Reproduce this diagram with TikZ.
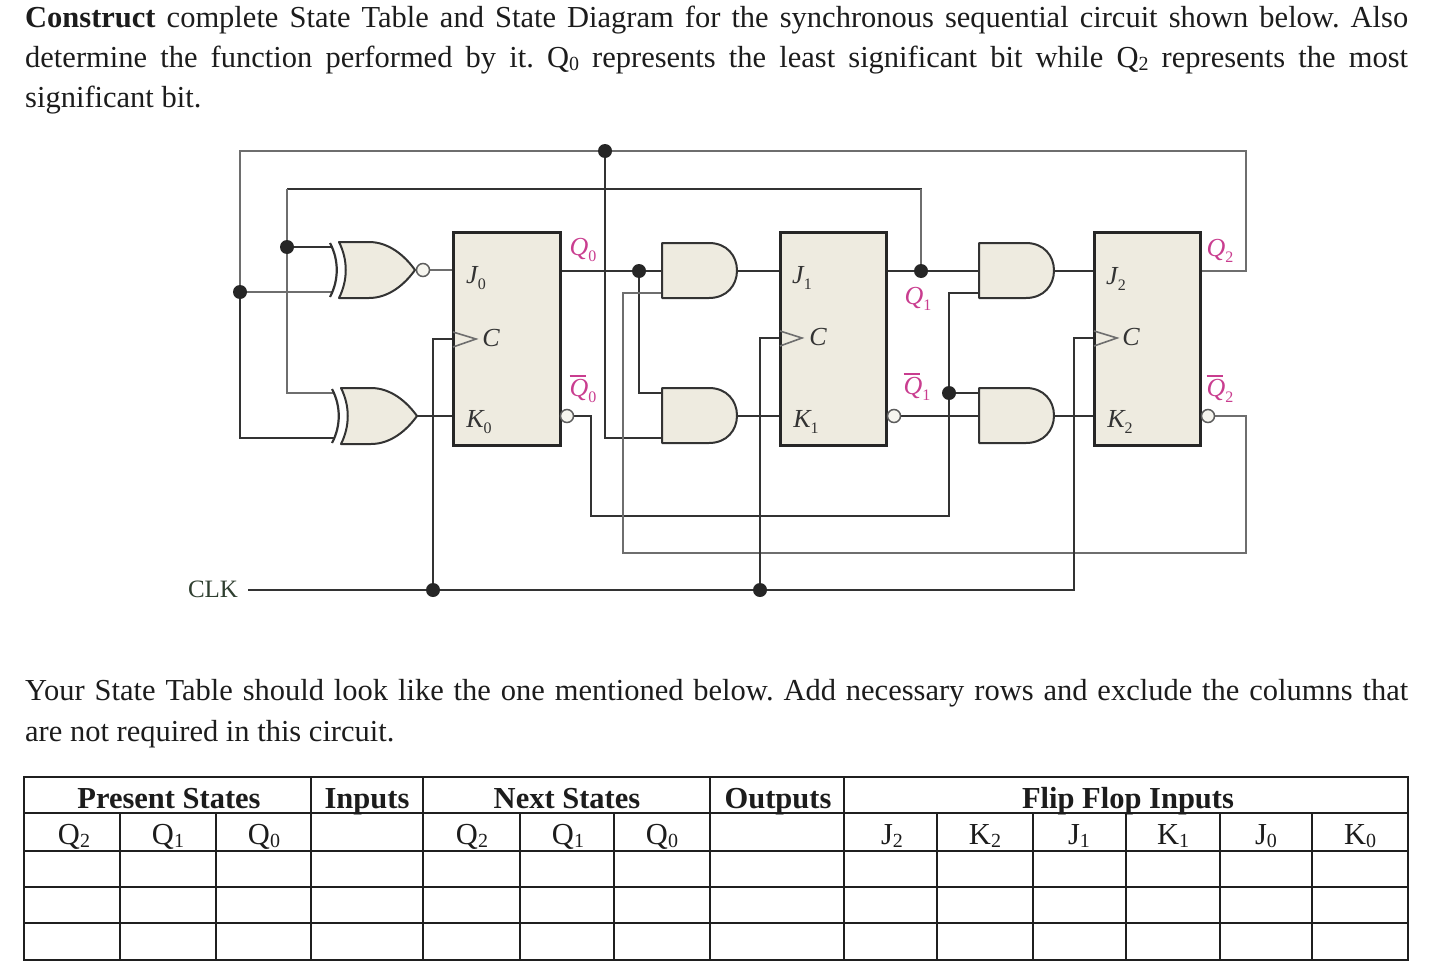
\documentclass[tikz,border=0pt]{standalone}
\usepackage{fontspec}
\setmainfont{Liberation Serif}
\usetikzlibrary{backgrounds}
\definecolor{gatefill}{HTML}{EEEBE0}
\definecolor{wiredark}{HTML}{333333}
\definecolor{wiregray}{HTML}{6E6E6E}
\definecolor{pinkq}{HTML}{C93D8F}
\definecolor{txt}{HTML}{1C1C1C}
\definecolor{clktext}{HTML}{2F3F30}
\frenchspacing
\newcommand{\sbs}[1]{\raisebox{-3pt}{\fontsize{20}{20}\selectfont #1}}
\newcommand{\bodysize}{\fontsize{30.5}{40}\selectfont}
\newcommand{\tabsize}{\fontsize{30.5}{34}\selectfont}
\newcommand{\pinlab}[2]{{\fontsize{26}{26}\selectfont\itshape #1}\raisebox{-6pt}{\fontsize{16}{16}\selectfont #2}}
\newcommand{\qlab}[1]{{\color{pinkq}\pinlab{Q}{#1}}}
\newcommand{\qbarlab}[1]{{\color{pinkq}\rlap{\rule[20pt]{16pt}{1.6pt}}\pinlab{Q}{#1}}}
\tikzset{
  wire/.style={draw=wiredark,line width=1.7pt},
  graywire/.style={draw=wiregray,line width=2.2pt},
  gatebody/.style={draw=wiredark,fill=gatefill,line width=2pt,line join=round},
  gatearc/.style={draw=wiredark,line width=2.2pt},
  junction/.style={circle,fill=black!85,draw=none,minimum size=14pt,inner sep=0pt},
  bubble/.style={circle,fill=gatefill!50,draw=wiredark!80,line width=1.5pt,minimum size=13pt,inner sep=0pt},
  ffbox/.style={rectangle,draw=black!85,fill=gatefill,line width=3pt,inner sep=0pt,minimum height=213pt},
  clkmark/.style={draw=wiregray,line width=1.6pt},
  bodyline/.style={anchor=base west,inner sep=0pt,text=txt,font=\bodysize},
  tabcell/.style={anchor=base,inner sep=0pt,text=txt,font=\tabsize},
  tabhead/.style={anchor=base,inner sep=0pt,text=txt,font=\tabsize\bfseries},
  tabrule/.style={draw=black!88,line width=2pt},
  pin/.style={inner sep=0pt,text=wiredark}
}
% \andg{name}{left x}{top y}
\newcommand{\andg}[3]{%
  \begin{scope}[shift={(#2,#3)}]
    \path[gatebody] (0,0) -- (47,0) .. controls (65,0) and (75,13) .. (75,27.5)
       .. controls (75,42) and (65,55) .. (47,55) -- (0,55) -- cycle;
    \coordinate (#1-t) at (0,5);
    \coordinate (#1-m) at (0,28);
    \coordinate (#1-b) at (0,50);
    \coordinate (#1-o) at (75,28);
  \end{scope}}
% \xorg{name}{left x}{top y}
\newcommand{\xorg}[3]{%
  \begin{scope}[shift={(#2,#3)}]
    \path[gatebody] (0,0) -- (30,0) .. controls (50,0) and (66,14) .. (76,28)
       .. controls (66,42) and (50,56) .. (30,56) -- (0,56)
       .. controls (9,38) and (9,18) .. (0,0) -- cycle;
    \path[gatearc] (-9,1) .. controls (0,18) and (0,38) .. (-9,55);
    \coordinate (#1-t) at (-6,5);
    \coordinate (#1-b) at (-6,50);
    \coordinate (#1-o) at (76,28);
  \end{scope}}
\begin{document}
\begin{tikzpicture}[x=1pt,y=-1pt]
\useasboundingbox (0,0) rectangle (1440,966);
% ---------- text
\node[bodyline] (l1) at (25,28) {\hbox to 1383pt{\textbf{Construct} complete State Table and State Diagram for the synchronous sequential circuit shown below. Also}};
\node[bodyline] (l2) at (25,67.5) {\hbox to 1383pt{determine the function performed by it. Q\sbs{0} represents the least significant bit while Q\sbs{2} represents the most}};
\node[bodyline] (l3) at (25,107.5) {significant bit.};
\node[bodyline] (l4) at (25,700) {\hbox to 1383pt{Your State Table should look like the one mentioned below. Add necessary rows and exclude the columns that}};
\node[bodyline] (l5) at (25,741) {are not required in this circuit.};
% ---------- gates
\xorg{x1}{339}{242}
\xorg{x2}{341}{388}
\andg{a1}{662}{243}
\andg{a2}{662}{388}
\andg{a3}{979}{243}
\andg{a4}{979}{388}
% ---------- flip-flops
\node[ffbox,minimum width=107pt] (ff0) at (506.5,338.5) {};
\node[ffbox,minimum width=106pt] (ff1) at (833,338.5) {};
\node[ffbox,minimum width=106pt] (ff2) at (1147,338.5) {};
\draw[clkmark] (453,332) -- (476,339) -- (453,347);
\draw[clkmark] (780,331) -- (802,338) -- (780,346);
\draw[clkmark] (1094,331) -- (1117,338) -- (1094,346);
% ---------- bubbles and junctions
\node[bubble] (bx) at (423,270) {};
\node[bubble] (b0) at (567,416) {};
\node[bubble] (b1) at (894,416) {};
\node[bubble] (b2) at (1208,416) {};
\node[junction] (d605) at (605,151) {};
\node[junction] (d287) at (287,247) {};
\node[junction] (d240) at (240,292) {};
\node[junction] (d639) at (639,271) {};
\node[junction] (d921) at (921,271) {};
\node[junction] (d949) at (949,393) {};
\node[junction] (d433) at (433,590) {};
\node[junction] (d760) at (760,590) {};
% ---------- pins
\coordinate (j0) at (453,270);
\coordinate (k0) at (453,416);
\coordinate (c0) at (453,339);
\coordinate (q0) at (560,271);
\coordinate (j1) at (780,271);
\coordinate (k1) at (780,416);
\coordinate (c1) at (780,338);
\coordinate (q1) at (886,271);
\coordinate (j2) at (1094,271);
\coordinate (k2) at (1094,416);
\coordinate (c2) at (1094,338);
\coordinate (q2) at (1200,271);
\coordinate (tr) at (1246,151);
\coordinate (w2r) at (921,189);
\coordinate (w2l) at (287,189);
\coordinate (w3a) at (591,416);
\coordinate (w3b) at (591,516);
\coordinate (w3c) at (949,516);
\coordinate (w4a) at (1246,416);
\coordinate (w4b) at (1246,553);
\coordinate (w4c) at (623,553);
\coordinate (w4d) at (623,293);
\coordinate (ck2) at (1074,338);
\coordinate (clkfree) at (248,590);
% ---------- wires
\begin{pgfonlayer}{background}
\draw[graywire] (q2) -- (q2-|tr) -- (tr) -- (d605.center);
\draw[graywire] (d605.center) -| (d240.center);
\draw[graywire] (d240.center) -- (x1-b);
\draw[wire] (d240.center) |- (x2-b);
\draw[wire] (d921.center) -- (w2r) -- (w2l);
\draw[graywire] (w2l) -- (d287.center);
\draw[wire] (d287.center) -- (x1-t);
\draw[graywire] (d287.center) |- (x2-t);
\draw[graywire] (bx) -- (j0);
\draw[wire] (x2-o) -- (k0);
\draw[wire] (q0) -- (d639.center) -- (a1-m);
\draw[wire] (d639.center) |- (a2-t);
\draw[wire] (d605.center) |- (a2-b);
\draw[wire] (a1-o) -- (j1);
\draw[wire] (a2-o) -- (k1);
\draw[wire] (b0) -- (w3a) -- (w3b) -- (w3c) -- (d949.center);
\draw[wire] (d949.center) |- (a3-b);
\draw[wire] (d949.center) -- (a4-t);
\draw[wire] (b1) -- (a4-m);
\draw[wire] (q1) -- (d921.center) -- (a3-m);
\draw[graywire] (d921.center) -- (w2r);
\draw[wire] (a3-o) -- (j2);
\draw[wire] (a4-o) -- (k2);
\draw[graywire] (b2) -- (w4a) -- (w4b) -- (w4c) -- (w4d) -- (a1-b);
\draw[wire] (d433.center) |- (c0);
\draw[wire] (d760.center) |- (c1);
\draw[wire] (d433.center) -- (d760.center) -| (ck2) -- (c2);
\draw[wire] (clkfree) -- (d433.center);
\end{pgfonlayer}
% ---------- CLK
\node[inner sep=0pt,text=clktext,font=\fontsize{25}{25}\selectfont] (clk) at (213,589) {CLK};
% ---------- pin labels
\node[pin] (lj0) at (476,278) {\pinlab{J}{0}};
\node[pin] (lk0) at (479,422) {\pinlab{K}{0}};
\node[pin] (lc0) at (491,341) {\pinlab{C}{}};
\node[pin] (lj1) at (802,278) {\pinlab{J}{1}};
\node[pin] (lk1) at (806,422) {\pinlab{K}{1}};
\node[pin] (lc1) at (818,340) {\pinlab{C}{}};
\node[pin] (lj2) at (1116,279) {\pinlab{J}{2}};
\node[pin] (lk2) at (1120,422) {\pinlab{K}{2}};
\node[pin] (lc2) at (1131,340) {\pinlab{C}{}};
\node[pin] (q0l) at (583,250) {\qlab{0}};
\node[pin] (q1l) at (918,299) {\qlab{1}};
\node[pin] (q2l) at (1220,251) {\qlab{2}};
\node[pin] (qb0l) at (583,389) {\qbarlab{0}};
\node[pin] (qb1l) at (917,387) {\qbarlab{1}};
\node[pin] (qb2l) at (1220,389) {\qbarlab{2}};
% ---------- table
\draw[tabrule] (24,777) rectangle (1408,960);
\foreach \yy in {813,851,887,923} \draw[tabrule] (24,\yy) -- (1408,\yy);
\foreach \xx in {311,423,710,844} \draw[tabrule] (\xx,777) -- (\xx,960);
\foreach \xx in {120,216,520,614,937,1033,1126,1220,1312} \draw[tabrule] (\xx,813) -- (\xx,960);
\node[tabhead] (h1) at (169,808) {Present States};
\node[tabhead] (h2) at (367,808) {Inputs};
\node[tabhead] (h3) at (567,808) {Next States};
\node[tabhead] (h4) at (778,808) {Outputs};
\node[tabhead] (h5) at (1128,808) {Flip Flop Inputs};
\node[tabcell] (c01) at (74,844) {Q\sbs{2}};
\node[tabcell] (c02) at (168,844) {Q\sbs{1}};
\node[tabcell] (c03) at (264,844) {Q\sbs{0}};
\node[tabcell] (c04) at (472,844) {Q\sbs{2}};
\node[tabcell] (c05) at (568,844) {Q\sbs{1}};
\node[tabcell] (c06) at (662,844) {Q\sbs{0}};
\node[tabcell] (c07) at (892,844) {J\sbs{2}};
\node[tabcell] (c08) at (985,844) {K\sbs{2}};
\node[tabcell] (c09) at (1079,844) {J\sbs{1}};
\node[tabcell] (c10) at (1173,844) {K\sbs{1}};
\node[tabcell] (c11) at (1266,844) {J\sbs{0}};
\node[tabcell] (c12) at (1360,844) {K\sbs{0}};
\end{tikzpicture}
\end{document}
